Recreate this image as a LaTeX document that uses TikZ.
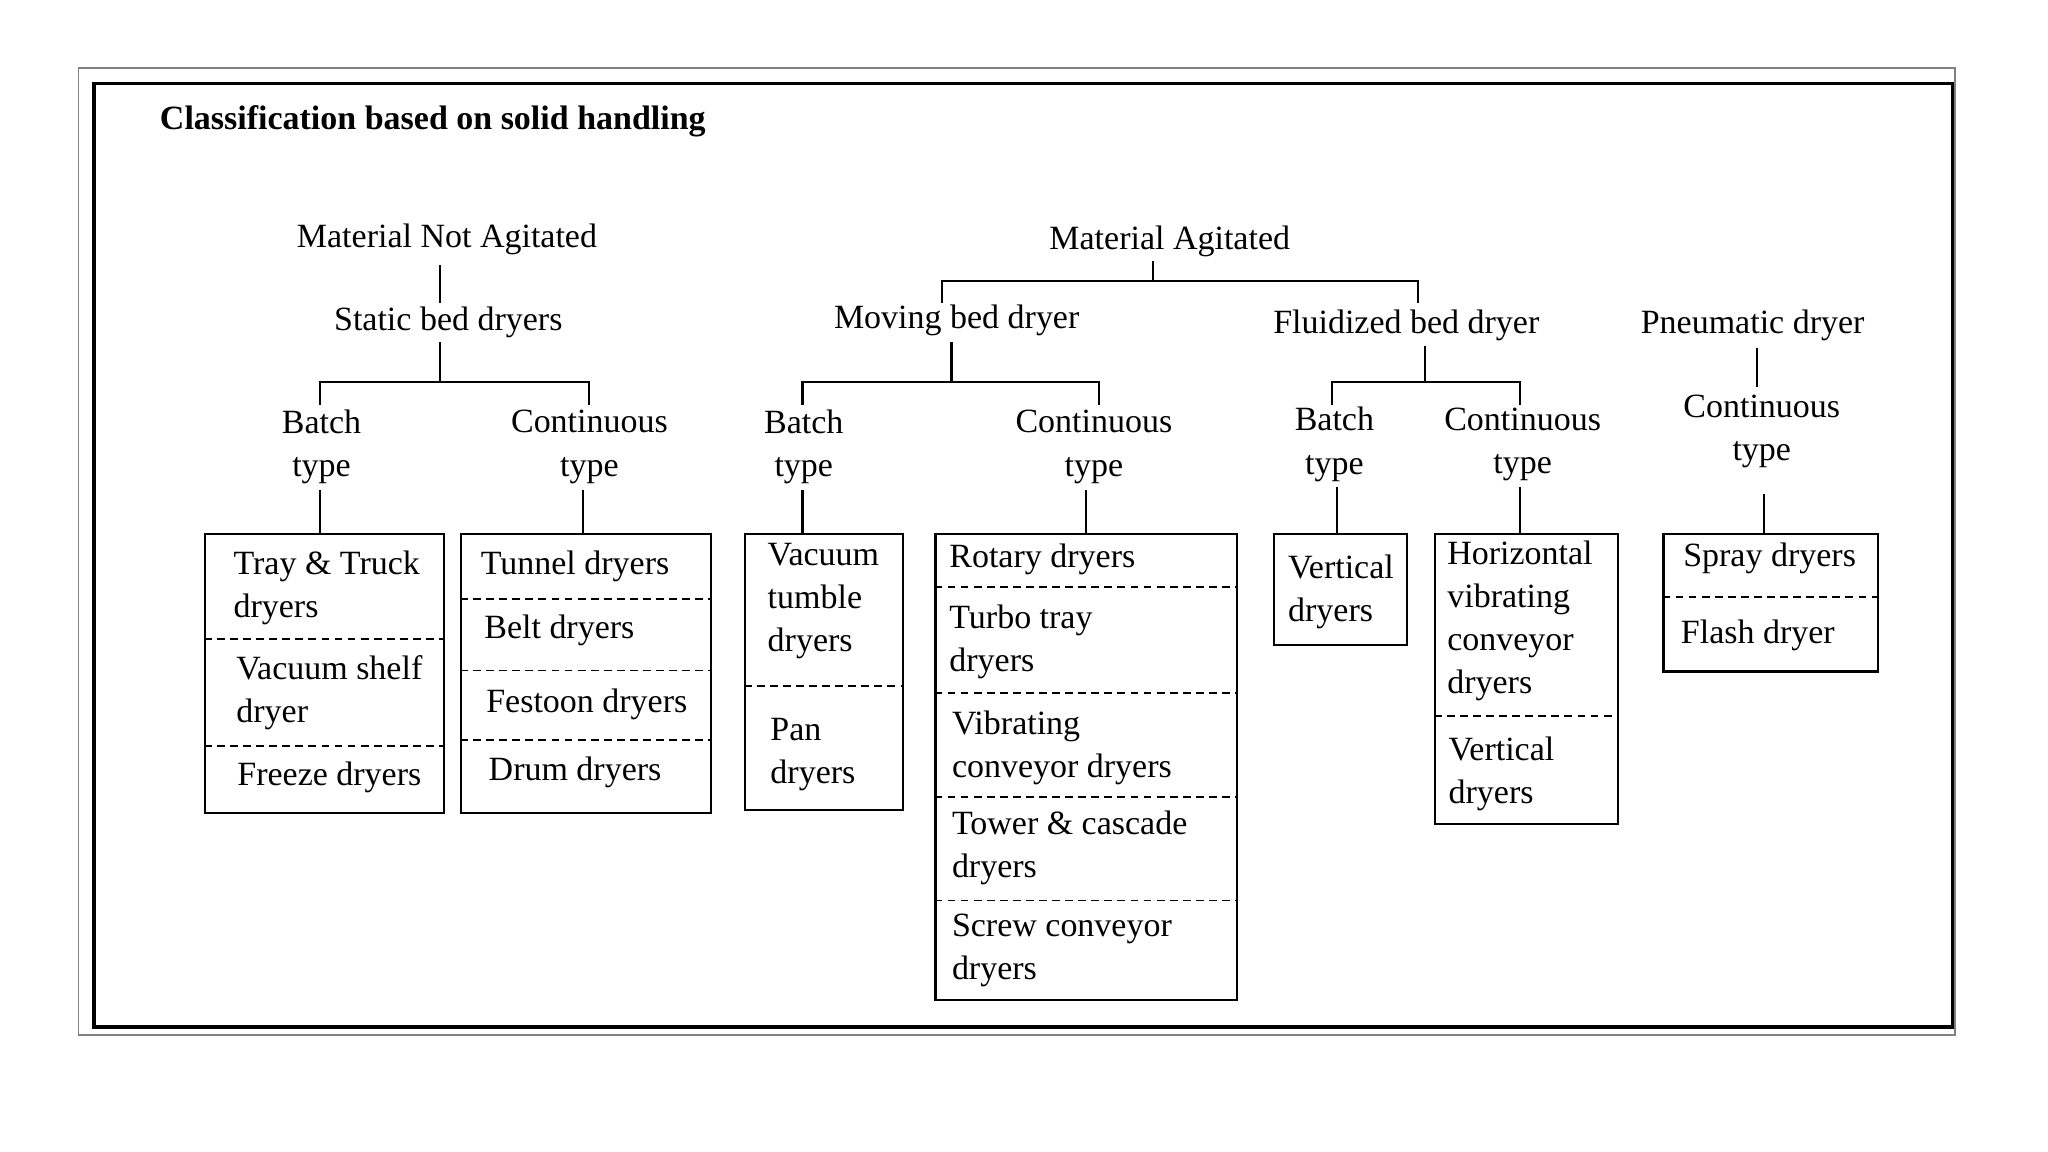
\documentclass[tikz,border=0pt]{standalone}
\usepackage{fontspec}
\setmainfont{Liberation Serif}
\begin{document}
\begin{tikzpicture}[x=0.5pt,y=-0.5pt,
  lbl/.style={inner sep=0pt,align=center,font=\fontsize{13}{16.5}\selectfont},
  itm/.style={inner sep=0pt,align=left,font=\fontsize{13}{16.5}\selectfont},
  bx/.style={draw,line width=0.8pt,anchor=north west,inner sep=0pt},
  ln/.style={line width=0.8pt},
  dl/.style={dashed,line width=0.7pt,dash pattern=on 3pt off 2pt}]
\useasboundingbox (0,0) rectangle (1567,881);
\fill[white] (0,0) rectangle (1567,881);
\draw[gray,line width=0.6pt] (60,52) rectangle (1496,792);
\draw[line width=1.4pt] (72,64) rectangle (1494,786);
\node[anchor=west,inner sep=0pt,font=\bfseries\fontsize{13}{15}\selectfont] (title) at (122,93) {Classification based on solid handling};
% left tree
\node[lbl] (mna) at (342,183) {Material Not Agitated};
\node[lbl] (sbd) at (343,247) {Static bed dryers};
\node[lbl] (b1) at (246,342) {Batch\\type};
\node[lbl] (c1) at (451,342) {Continuous\\type};
\coordinate (j1) at (337,292);
\draw[ln] (337,203) -- (337,232);
\draw[ln] (337,262) -- (j1);
\draw[ln] (245,310) -- (245,292) -- (451,292) -- (451,310);
\node[bx,minimum width=91.5pt,minimum height=106.5pt] (box1) at (156,408) {};
\node[bx,minimum width=95.5pt,minimum height=106.5pt] (box2) at (352,408) {};
\draw[ln] (245,375) -- (box1.north -| 245,0);
\draw[ln] (446,375) -- (box2.north -| 446,0);
\draw[dl] (156,489) -- (339,489); \draw[dl] (156,571) -- (339,571);
\node[itm] (t11) at (250,450) {Tray \& Truck\\dryers};
\node[itm] (t12) at (252,530) {Vacuum shelf\\dryer};
\node[itm] (t13) at (252,595) {Freeze dryers};
\draw[dl] (352,458) -- (543,458); \draw[dl] (352,513) -- (543,513); \draw[dl] (352,566) -- (543,566);
\node[itm] (t21) at (440,433) {Tunnel dryers};
\node[itm] (t22) at (428,482) {Belt dryers};
\node[itm] (t23) at (449,539) {Festoon dryers};
\node[itm] (t24) at (440,591) {Drum dryers};
% agitated
\node[lbl] (ma) at (895,185) {Material Agitated};
\draw[ln] (882,200) -- (882,215);
\draw[ln] (721,232) -- (721,215) -- (1085,215) -- (1085,232);
\node[lbl] (mbd) at (732,245) {Moving bed dryer};
\node[lbl] (fbd) at (1076,249) {Fluidized bed dryer};
\node[lbl] (pd) at (1341,249) {Pneumatic dryer};
% moving
\draw[ln] (728,262) -- (728,292);
\draw[ln] (614,310) -- (614,292) -- (841,292) -- (841,310);
\node[lbl] (b2) at (615,342) {Batch\\type};
\node[lbl] (c2) at (837,342) {Continuous\\type};
\node[bx,minimum width=60.5pt,minimum height=105.5pt] (box3) at (569,408) {};
\node[bx,minimum width=115.5pt,minimum height=178pt] (box4) at (715,408) {};
\draw[ln] (614,375) -- (614,408);
\draw[ln] (831,375) -- (831,408);
\draw[dl] (569,525) -- (690,525);
\node[itm] (t31) at (630,460) {Vacuum\\tumble\\dryers};
\node[itm] (t32) at (622,577) {Pan\\dryers};
\foreach \yy in {449,530,610,689} \draw[dl] (715,\yy) -- (946,\yy);
\node[itm,anchor=west] (t41) at (726,428) {Rotary dryers};
\node[itm,anchor=west] (t42) at (726,491) {Turbo tray\\dryers};
\node[itm,anchor=west] (t43) at (728,572) {Vibrating\\conveyor dryers};
\node[itm,anchor=west] (t44) at (728,649) {Tower \& cascade\\dryers};
\node[itm,anchor=west] (t45) at (728,727) {Screw conveyor\\dryers};
% fluidized
\draw[ln] (1090,265) -- (1090,292);
\draw[ln] (1019,310) -- (1019,292) -- (1163,292) -- (1163,310);
\node[lbl] (b3) at (1021,340) {Batch\\type};
\node[lbl] (c3) at (1165,340) {Continuous\\type};
\node[bx,minimum width=51pt,minimum height=42.5pt] (box5) at (974,408) {};
\node[bx,minimum width=70pt,minimum height=111pt] (box6) at (1097,408) {};
\draw[ln] (1023,373) -- (1023,408);
\draw[ln] (1163,373) -- (1163,408);
\node[itm] (t51) at (1026,453) {Vertical\\dryers};
\draw[dl] (1097,548) -- (1237,548);
\node[itm,anchor=west] (t61) at (1107,475) {Horizontal\\vibrating\\conveyor\\dryers};
\node[itm,anchor=west] (t62) at (1108,592) {Vertical\\dryers};
% pneumatic
\draw[ln] (1344,266) -- (1344,296);
\node[lbl] (c4) at (1348,330) {Continuous\\type};
\node[bx,minimum width=82pt,minimum height=52.5pt] (box7) at (1272,408) {};
\draw[ln] (1350,378) -- (1350,408);
\draw[dl] (1272,457) -- (1436,457);
\node[itm] (t71) at (1354,427) {Spray dryers};
\node[itm] (t72) at (1345,486) {Flash dryer};
\end{tikzpicture}
\end{document}
